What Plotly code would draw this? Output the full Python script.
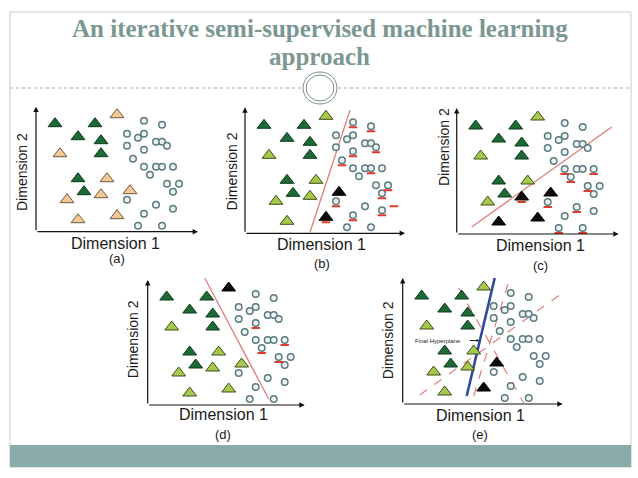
import plotly.graph_objects as go

W, H = 638, 478

# ---------------- data (shared toy dataset, units ~ pixels from each panel origin) -------------
circle_x = [108, 126, 91, 102, 108, 120, 126, 131, 91, 108, 97, 108, 120, 126, 137, 114, 131, 143, 137, 91, 120, 137, 108, 102, 126]
circle_y = [111, 107, 98, 94, 98, 90, 90, 86, 86, 82, 73, 65, 65, 65, 65, 57, 48, 48, 40, 32, 27, 23, 18, 6, 6]

labeled_x = [19, 59, 42, 65, 65, 42, 48]
labeled_y = [108, 108, 95, 91, 78, 53, 40]

unlabeled_x = [81, 24, 71, 94, 31, 65, 42, 81]
unlabeled_y = [117, 78, 53, 41, 32, 37, 12, 16]

# class of each unlabeled triangle per panel: u = unlabeled (tan), g = pseudo-labeled (light green), k = misclassified (black)
unlabeled_class = {
    "a": ["u", "u", "u", "u", "u", "u", "u", "u"],
    "b": ["g", "g", "g", "k", "g", "g", "g", "k"],
    "c": ["g", "g", "g", "k", "g", "k", "k", "k"],
    "d": ["k", "g", "g", "g", "g", "g", "g", "g"],
    "e": ["g", "g", "g", "k", "g", "g", "g", "k"],
}

# red "negative" marks (points they sit under)
neg_x = {
    "a": [],
    "b": [108, 126, 131, 108, 97, 126, 143, 137, 91, 108, 137, 81, 149],
    "c": [108, 137, 114, 131, 91, 120, 102, 126, 65],
    "d": [108, 137, 114, 131],
    "e": [],
}
neg_y = {
    "a": [],
    "b": [111, 107, 86, 82, 73, 65, 48, 40, 32, 18, 23, 16, 32],
    "c": [65, 65, 57, 48, 32, 27, 6, 6, 37],
    "d": [82, 65, 57, 48],
    "e": [],
}

# hyperplanes (end points in panel units)
plane_b = ([65, 105], [1, 123])
plane_c = ([15, 155], [7, 107])
plane_d = ([57, 121], [127, 6])
final_plane = ([64, 92], [8, 126])
old_planes = [([71, 107], [8, 126]), ([17, 157], [9, 109]), ([56, 121], [116, 1])]

panel_names = ["a", "b", "c", "d", "e"]
panel_captions = ["(a)", "(b)", "(c)", "(d)", "(e)"]
x_title = "Dimension 1"
y_title = "Dimension 2"
title_lines = ["An iterative semi-supervised machine learning", "approach"]

# ---------------- layout geometry (pixels) ----------------
origin = {"a": (36, 231.7), "b": (245, 233.3), "c": (456.7, 234), "d": (147.7, 405), "e": (402.7, 404)}
axis_len = {"a": (162, 125), "b": (160, 126), "c": (162, 126), "d": (157, 125), "e": (160, 126)}
ylab_pos = {"a": (22, 172), "b": (231.7, 171.7), "c": (443.3, 146.7), "d": (133.3, 339), "e": (388.3, 340)}
xlab_pos = {"a": (115, 243), "b": (321.7, 244), "c": (540, 245), "d": (223.3, 414), "e": (480, 415.7)}
cap_pos = {"a": (116.7, 258), "b": (321.7, 263), "c": (540, 265), "d": (223.3, 434), "e": (480, 434)}


def PX(px):
    return px / W


def PY(py):
    return 1 - py / H


DARK = "#1e6a36"
LIGHT = "#a6c94c"
TAN = "#f6c896"
BLACK = "#0a0a0a"
RING = "#5b7b80"
RED = "#e0392f"
PLANE = "#de7f7c"

fig = go.Figure()
layout_axes = {}
annotations = []
shapes = []
pad = 9


def label(px, py, text, size, family="Liberation Sans", color="#1a1a1a", angle=0):
    return dict(x=PX(px), y=PY(py), xref="paper", yref="paper", text=text, textangle=angle,
                showarrow=False, xanchor="center", yanchor="middle",
                font=dict(family=family, size=size, color=color))


for i, p in enumerate(panel_names):
    n = "" if i == 0 else str(i + 1)
    xa, ya = "x" + n, "y" + n
    ox, oy = origin[p]
    lx, ly = axis_len[p]
    layout_axes["xaxis" + n] = dict(domain=[PX(ox - pad), PX(ox + 170)], range=[-pad, 170],
                                    visible=False, fixedrange=True)
    layout_axes["yaxis" + n] = dict(domain=[PY(oy + pad), PY(oy - 132)], range=[-pad, 132],
                                    visible=False, fixedrange=True)

    # hyperplanes
    if p == "b":
        planes = [plane_b]
    elif p == "c":
        planes = [plane_c]
    elif p == "d":
        planes = [plane_d]
    else:
        planes = []
    for px_, py_ in planes:
        fig.add_trace(go.Scatter(x=px_, y=py_, mode="lines", xaxis=xa, yaxis=ya,
                                 line=dict(color=PLANE, width=1.3), hoverinfo="skip", showlegend=False))
    if p == "e":
        for px_, py_ in old_planes:
            fig.add_trace(go.Scatter(x=px_, y=py_, mode="lines", xaxis=xa, yaxis=ya,
                                     line=dict(color=PLANE, width=1.2, dash="dash"),
                                     hoverinfo="skip", showlegend=False))
        fig.add_trace(go.Scatter(x=final_plane[0], y=final_plane[1], mode="lines", xaxis=xa, yaxis=ya,
                                 line=dict(color="#2f4c9c", width=2.6), hoverinfo="skip", showlegend=False))

    # circles
    fig.add_trace(go.Scatter(x=circle_x, y=circle_y, mode="markers", xaxis=xa, yaxis=ya,
                             marker=dict(symbol="circle", size=6.5, color="#eef3f3",
                                         line=dict(color=RING, width=1.5)),
                             hoverinfo="skip", showlegend=False))
    # labeled triangles
    fig.add_trace(go.Scatter(x=labeled_x, y=labeled_y, mode="markers", xaxis=xa, yaxis=ya,
                             marker=dict(symbol="triangle-up", size=12, color=DARK,
                                         line=dict(color="#0d3a1a", width=1)),
                             hoverinfo="skip", showlegend=False))
    # unlabeled triangles by class
    cls = unlabeled_class[p]
    for c, col, lc in [("u", TAN, "#6b5a40"), ("g", LIGHT, "#3d4d1a"), ("k", BLACK, "#000000")]:
        xs = [x for x, k in zip(unlabeled_x, cls) if k == c]
        ys = [y for y, k in zip(unlabeled_y, cls) if k == c]
        if xs:
            fig.add_trace(go.Scatter(x=xs, y=ys, mode="markers", xaxis=xa, yaxis=ya,
                                     marker=dict(symbol="triangle-up", size=12, color=col,
                                                 line=dict(color=lc, width=1)),
                                     hoverinfo="skip", showlegend=False))
    # red marks
    if neg_x[p]:
        fig.add_trace(go.Scatter(x=neg_x[p], y=[v - 5 for v in neg_y[p]], mode="markers", xaxis=xa, yaxis=ya,
                                 marker=dict(symbol="line-ew", size=6, color=RED,
                                             line=dict(color=RED, width=2)),
                                 hoverinfo="skip", showlegend=False))

    # axes with arrows
    for tx, ty in [(lx, 0), (0, ly)]:
        annotations.append(dict(x=tx, y=ty, ax=0, ay=0, xref=xa, yref=ya, axref=xa, ayref=ya,
                                text="", showarrow=True, arrowhead=2, arrowsize=0.9,
                                arrowwidth=1.2, arrowcolor="#111111"))

    # texts
    annotations.append(label(ylab_pos[p][0], ylab_pos[p][1], y_title, 14, angle=-90))
    annotations.append(label(xlab_pos[p][0], xlab_pos[p][1], x_title, 16))
    annotations.append(label(cap_pos[p][0], cap_pos[p][1], panel_captions[i], 13))

    if p == "e":
        annotations.append(label(438, 340.5, "Final Hyperplane", 6, color="#222222"))
        annotations.append(dict(x=77, y=63.5, ax=65.5, ay=63.5, xref=xa, yref=ya, axref=xa, ayref=ya,
                                text="", showarrow=True, arrowhead=2, arrowsize=0.6,
                                arrowwidth=1, arrowcolor="#222222"))

# title
annotations.append(label(320, 28, "<b>" + title_lines[0] + "</b>", 25, family="Liberation Serif", color="#7b9792"))
annotations.append(label(320, 56.5, "<b>" + title_lines[1] + "</b>", 25, family="Liberation Serif", color="#7b9792"))

# slide decoration
shapes.append(dict(type="rect", xref="paper", yref="paper", x0=PX(10), x1=PX(631), y0=PY(467), y1=PY(12),
                   line=dict(color="#c4cccc", width=1), fillcolor="rgba(0,0,0,0)", layer="below"))
shapes.append(dict(type="rect", xref="paper", yref="paper", x0=PX(10), x1=PX(631), y0=PY(467), y1=PY(445),
                   line=dict(width=0), fillcolor="#8aabab", layer="below"))
shapes.append(dict(type="line", xref="paper", yref="paper", x0=PX(10), x1=PX(302), y0=PY(88), y1=PY(88),
                   line=dict(color="#9aa7a7", width=1, dash="dot")))
shapes.append(dict(type="line", xref="paper", yref="paper", x0=PX(338), x1=PX(631), y0=PY(88), y1=PY(88),
                   line=dict(color="#9aa7a7", width=1, dash="dot")))
shapes.append(dict(type="circle", xref="paper", yref="paper", x0=PX(303), x1=PX(337), y0=PY(104), y1=PY(72),
                   line=dict(color="#7f8d8d", width=1)))
shapes.append(dict(type="circle", xref="paper", yref="paper", x0=PX(306), x1=PX(334), y0=PY(101), y1=PY(75),
                   line=dict(color="#7f8d8d", width=1)))

fig.update_layout(width=W, height=H, margin=dict(l=0, r=0, t=0, b=0),
                  paper_bgcolor="white", plot_bgcolor="rgba(0,0,0,0)",
                  annotations=annotations, shapes=shapes, showlegend=False, **layout_axes)

fig.write_html("out.html", config={"displayModeBar": False},
               post_script="document.body.style.margin='0px';")
